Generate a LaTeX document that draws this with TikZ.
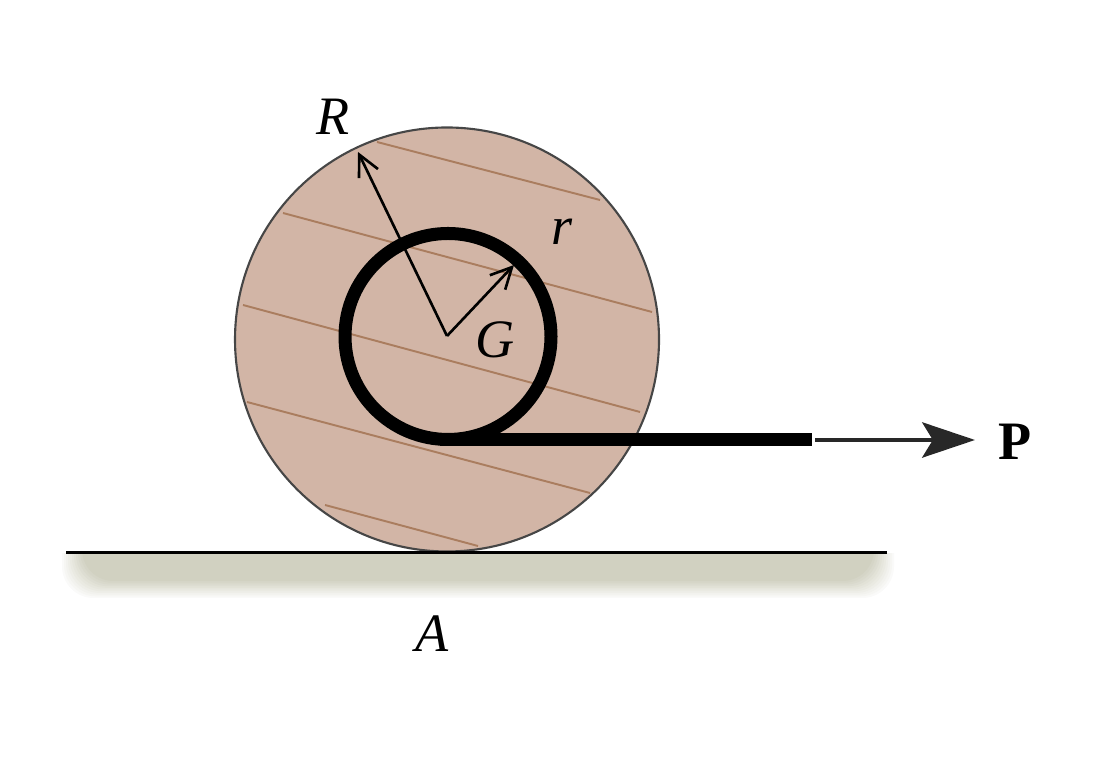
\documentclass[tikz,border=0pt]{standalone}
\usepackage{fontspec}
\setmainfont{Liberation Serif}
\usetikzlibrary{arrows.meta}
\definecolor{wheelColor}{RGB}{210,181,166}
\definecolor{grainColor}{RGB}{170,125,95}
\definecolor{groundColor}{RGB}{209,209,193}
\definecolor{rimColor}{RGB}{70,70,70}
\definecolor{forceColor}{RGB}{40,40,40}

\begin{document}
\begin{tikzpicture}

            \tikzstyle{grainEdge} = [line width=0.55pt, grainColor];
            \tikzstyle{radiusEdge} = [line width=0.75pt, black, -{Straight Barb[length=6pt,width=6pt]}];
            \tikzstyle{forceEdge} = [line width=1.4pt, forceColor, -{Stealth[length=15pt,width=10pt,inset=3pt]}];
            \tikzstyle{rope} = [line width=3.7pt, black];
            \tikzstyle{letter} = [font=\fontsize{15.4}{18}\selectfont\itshape, inner sep=0pt];

            \useasboundingbox (0,0) rectangle (11.15,7.6);

            % ground shadow
            \begin{scope}
              \clip (0,2.06) rectangle (11.15,1.5);
              \foreach \i in {0,...,10} {
                \pgfmathsetmacro{\tint}{10+9*\i}
                \fill[groundColor!\tint!white, rounded corners=9pt]
                  (0.62+0.02*\i,2.5) rectangle (8.94-0.02*\i,1.62+0.017*\i);
              }
            \end{scope}

            \coordinate (wheelCenter) at (4.47,4.205);
            \coordinate (hubCenter) at (4.48,4.235);
            \coordinate (G) at (4.47,4.24);

            \fill[wheelColor] (wheelCenter) circle (2.12);

            \begin{scope}
              \clip (wheelCenter) circle (2.12);
              \draw[grainEdge] (3.77,6.18) -- (6.00,5.60);
              \draw[grainEdge] (2.83,5.47) -- (6.52,4.48);
              \draw[grainEdge] (2.43,4.55) -- (6.40,3.48);
              \draw[grainEdge] (2.47,3.58) -- (5.90,2.67);
              \draw[grainEdge] (3.25,2.55) -- (4.78,2.14);
            \end{scope}

            \draw[line width=0.6pt, rimColor] (wheelCenter) circle (2.12);

            \coordinate (rimPoint) at (3.58,6.08);
            \coordinate (hubPoint) at (5.14,4.95);
            \draw[radiusEdge] (G) -- (rimPoint);
            \draw[radiusEdge] (G) -- (hubPoint);

            \draw[rope] (hubCenter) circle (1.03);

            \coordinate (ropeStart) at (4.40,3.20);
            \coordinate (ropeEnd) at (8.12,3.20);
            \coordinate (forceStart) at (8.15,3.20);
            \coordinate (forceEnd) at (9.75,3.20);
            \draw[rope] (ropeStart) -- (ropeEnd);
            \draw[forceEdge] (forceStart) -- (forceEnd);

            \coordinate (groundLeft) at (0.66,2.07);
            \coordinate (groundRight) at (8.87,2.07);
            \draw[line width=0.85pt, black] (groundLeft) -- (groundRight);

            \node[letter] (labelR) at (3.33,6.43) {R};
            \node[letter] (labelr) at (5.62,5.28) {r};
            \node[letter] (labelG) at (4.95,4.20) {G};
            \node[letter] (labelA) at (4.32,1.26) {A};
            \node[letter, font=\fontsize{15.4}{18}\selectfont\bfseries] (labelP) at (10.15,3.18) {P};

          \end{tikzpicture}
\end{document}
